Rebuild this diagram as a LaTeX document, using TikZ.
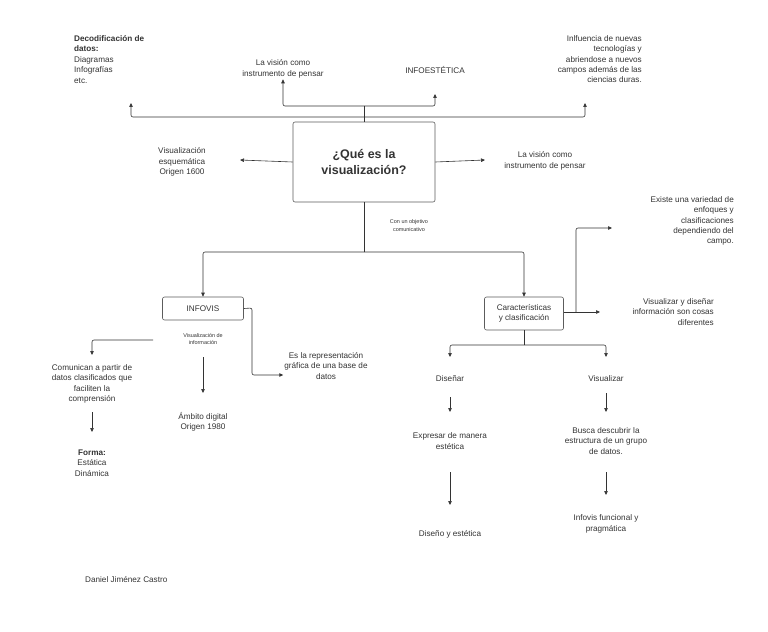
\documentclass[tikz,border=0pt]{standalone}
\usepackage{fontspec}
\setmainfont{Liberation Sans}
\usetikzlibrary{arrows.meta}
\definecolor{ink}{HTML}{333333}
\begin{document}
\begin{tikzpicture}[x=1bp,y=-1bp,
  every node/.style={text=ink,font=\fontsize{8.2}{10.5}\selectfont,inner sep=1pt},
  txt/.style={align=center},
  tiny/.style={align=center,font=\fontsize{5.5}{8}\selectfont},
  box/.style={draw=ink!80,rounded corners=2pt,line width=0.6pt,align=center},
  con/.style={draw=ink,line width=0.6pt,rounded corners=2pt},
  arr/.style={con,-{Triangle[length=4pt,width=3.5pt]}}]
\useasboundingbox (0,0) rectangle (768,632);
% center
\node[box,minimum width=142bp,minimum height=80bp,font=\bfseries\fontsize{12.5}{16}\selectfont] (c) at (364,162) {¿Qué es la\\visualización?};
% top texts
\node[anchor=north west,align=left] (dec) at (73,34) {\textbf{Decodificación de}\\\textbf{datos:}\\Diagramas\\Infografías\\etc.};
\node[txt] (vis1) at (283,69) {La visión como\\instrumento de pensar};
\node[txt] (info) at (435,70) {INFOESTÉTICA};
\node[anchor=north east,align=right] (inf) at (643,34) {Inlfuencia de nuevas\\tecnologías y\\abriendose a nuevos\\campos además de las\\ciencias duras.};
\coordinate (b1) at (364,117);
\coordinate (b2) at (364,106);
\draw[con] (c.north) -- (b1);
\draw[arr] (b1) -| (131,103);
\draw[arr] (b1) -| (585,103);
\draw[con] (b1) -- (b2);
\draw[arr] (b2) -| (vis1.south);
\draw[arr] (b2) -| (435,94);
% sides
\node[txt] (esq) at (182,162) {Visualización\\esquemática\\Origen 1600};
\node[txt] (vis2) at (545,161) {La visión como\\instrumento de pensar};
\draw[arr] (c.west) -- (240,160);
\draw[arr] (c.east) -- (485,160);
% down
\node[tiny] (obj) at (409,226) {Con un objetivo\\comunicativo};
\coordinate (b3) at (364,252);
\node[box,minimum width=81bp,minimum height=23bp] (iv) at (203,308.5) {INFOVIS};
\node[box,minimum width=79bp,minimum height=33bp] (ca) at (524,313.5) {Características\\y clasificación};
\draw[con] (c.south) -- (b3);
\draw[arr] (b3) -| (iv.north);
\draw[arr] (b3) -| (ca.north);
% infovis
\node[tiny] (vi) at (203,339) {Visualización de\\información};
\node[txt] (rep) at (326,366) {Es la representación\\gráfica de una base de\\datos};
\draw[arr] (iv.east) -- (252,308) -- (252,375) -- (rep.west|-0,375);
\node[txt] (com) at (92,384) {Comunican a partir de\\datos clasificados que\\faciliten la\\comprensión};
\draw[arr] (153,340) -| (92,355);
\node[txt] (forma) at (92,463) {\textbf{Forma:}\\Estática\\Dinámica};
\draw[arr] (92,412) -- (92,432);
\node[txt] (amb) at (203,422) {Ámbito digital\\Origen 1980};
\draw[arr] (203,357) -- (203,393);
% caracteristicas
\node[anchor=north east,align=right] (exi) at (735,195) {Existe una variedad de\\enfoques y\\clasificaciones\\dependiendo del\\campo.};
\node[anchor=east,align=right] (vd) at (715,312) {Visualizar y diseñar\\información son cosas\\diferentes};
\coordinate (b4) at (576,312);
\draw[con] (ca.east|-b4) -- (b4);
\draw[arr] (b4) -- (576,228) -- (612,228);
\draw[arr] (b4) -- (600,312);
\coordinate (b5) at (524,345);
\node[txt] (dis) at (450,379) {Diseñar};
\node[txt] (vz) at (606,379) {Visualizar};
\draw[con] (ca.south) -- (b5);
\draw[arr] (b5) -| (450,357);
\draw[arr] (b5) -| (606,357);
\node[txt] (exp) at (450,441) {Expresar de manera\\estética};
\node[txt] (dye) at (450,534) {Diseño y estética};
\draw[arr] (450,397) -- (450,412);
\draw[arr] (450,472) -- (450,505);
\node[txt] (bus) at (606,441) {Busca descubrir la\\estructura de un grupo\\de datos.};
\node[txt] (ifp) at (606,524) {Infovis funcional y\\pragmática};
\draw[arr] (606,393) -- (606,412);
\draw[arr] (606,472) -- (606,495);
\node[anchor=west] (dan) at (84,580) {Daniel Jiménez Castro};
\end{tikzpicture}
\end{document}
